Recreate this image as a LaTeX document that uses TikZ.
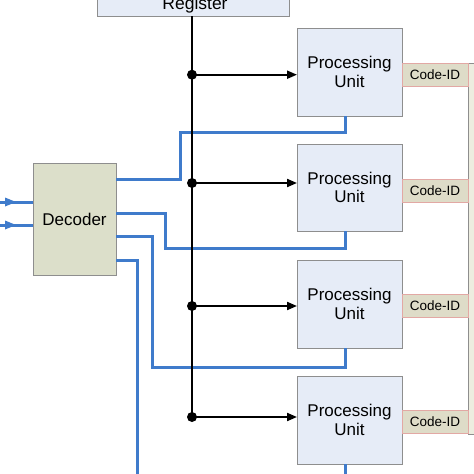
\documentclass[tikz,border=0pt]{standalone}
\usepackage{fontspec}
\setmainfont{Liberation Sans}
\usetikzlibrary{arrows.meta}
\definecolor{pufill}{HTML}{E6ECF7}
\definecolor{boxline}{HTML}{8E8E8E}
\definecolor{decfill}{HTML}{DCDFCA}
\definecolor{codefill}{HTML}{DEDCC8}
\definecolor{codeline}{HTML}{E2A8A4}
\definecolor{barfill}{HTML}{EDEDE0}
\definecolor{bluewire}{HTML}{3F7BCB}
\tikzset{
  pubox/.style={draw=boxline, fill=pufill, line width=1pt, minimum width=105pt, minimum height=88pt, inner sep=0pt, outer sep=0pt, align=center, font=\fontsize{17}{18.5}\selectfont},
  codebox/.style={draw=codeline, fill=codefill, line width=1pt, minimum width=66pt, minimum height=23pt, inner sep=0pt, outer sep=0pt, font=\fontsize{13.5}{14}\selectfont},
  decbox/.style={draw=boxline, fill=decfill, line width=1pt, minimum width=83pt, minimum height=112pt, inner sep=0pt, outer sep=0pt, font=\fontsize{17}{18}\selectfont},
  wire/.style={draw=black, line width=2pt},
  busarrow/.style={wire, -{Triangle[length=10pt,width=8pt]}},
  bluew/.style={draw=bluewire, line width=3pt},
  dotnode/.style={circle, fill=black, minimum size=10pt, inner sep=0pt},
}
\begin{document}
\begin{tikzpicture}[x=1pt,y=-1pt]
\useasboundingbox (0,0) rectangle (474,474);
\begin{scope}
\clip (0,0) rectangle (474,474);
% register
\node[draw=boxline, fill=pufill, line width=1pt, minimum width=192pt, minimum height=30pt, inner sep=0pt, outer sep=0pt, anchor=south] (reg) at (193,16) {};
\node[font=\fontsize{17.5}{18}\selectfont, anchor=base] (regtxt) at (195,9) {Register};
% big bar on the right
\node[draw=boxline, fill=barfill, line width=1pt, minimum width=24pt, minimum height=371pt, inner sep=0pt, outer sep=0pt, anchor=north west] (bar) at (468,63) {};
% processing units
\node[pubox] (pu1) at (349.5,72) {Processing\\Unit};
\node[pubox, minimum height=87pt] (pu2) at (349.5,187.5) {Processing\\Unit};
\node[pubox] (pu3) at (349.5,304) {Processing\\Unit};
\node[pubox] (pu4) at (349.5,420) {Processing\\Unit};
% code-id
\node[codebox] (c1) at (435,74.5) {Code-ID};
\node[codebox] (c2) at (435,190.5) {Code-ID};
\node[codebox] (c3) at (435,306) {Code-ID};
\node[codebox] (c4) at (435,422) {Code-ID};
% decoder
\node[decbox] (dec) at (74.5,219) {Decoder};
% bus
\coordinate (bustop) at (192,16);
\node[dotnode] (d1) at (192,74.7) {};
\node[dotnode] (d2) at (192,183) {};
\node[dotnode] (d3) at (192,306) {};
\node[dotnode] (d4) at (192,417) {};
% blue wires (drawn under bus)
\coordinate (o1) at (116,179);
\coordinate (o2) at (116,213);
\coordinate (o3) at (116,236);
\coordinate (o4) at (116,260);
\coordinate (b4) at (137,480);
\coordinate (b5) at (345,480);
\draw[bluew] (o1) -- (180,179) -- (180,132) -- (345,132) -- ([xshift=-4.5pt]pu1.south);
\draw[bluew] (o2) -- (165,213) -- (165,248) -- (345,248) -- ([xshift=-4.5pt]pu2.south);
\draw[bluew] (o3) -- (152,236) -- (152,367) -- (345,367) -- ([xshift=-4.5pt]pu3.south);
\draw[bluew] (o4) -- (137,260) -- (b4);
\draw[bluew] ([xshift=-4.5pt]pu4.south) -- (b5);
% input arrows
\coordinate (i1) at (-2,202);
\coordinate (i2) at (-2,225);
\coordinate (i1m) at (16,202);
\coordinate (i2m) at (16,225);
\draw[bluew] (i1) -- (dec.west |- i1);
\draw[bluew] (i2) -- (dec.west |- i2);
\fill[bluewire] (i1m) -- ++(-11,-4.5) -- ++(0,9) -- cycle;
\fill[bluewire] (i2m) -- ++(-11,-4.5) -- ++(0,9) -- cycle;
% bus line and arrows
\draw[wire] (bustop) -- (d4.center);
\draw[busarrow] (d1.center) -- (pu1.west |- d1);
\draw[busarrow] (d2.center) -- (pu2.west |- d2);
\draw[busarrow] (d3.center) -- (pu3.west |- d3);
\draw[busarrow] (d4.center) -- (pu4.west |- d4);
\end{scope}
\end{tikzpicture}
\end{document}
